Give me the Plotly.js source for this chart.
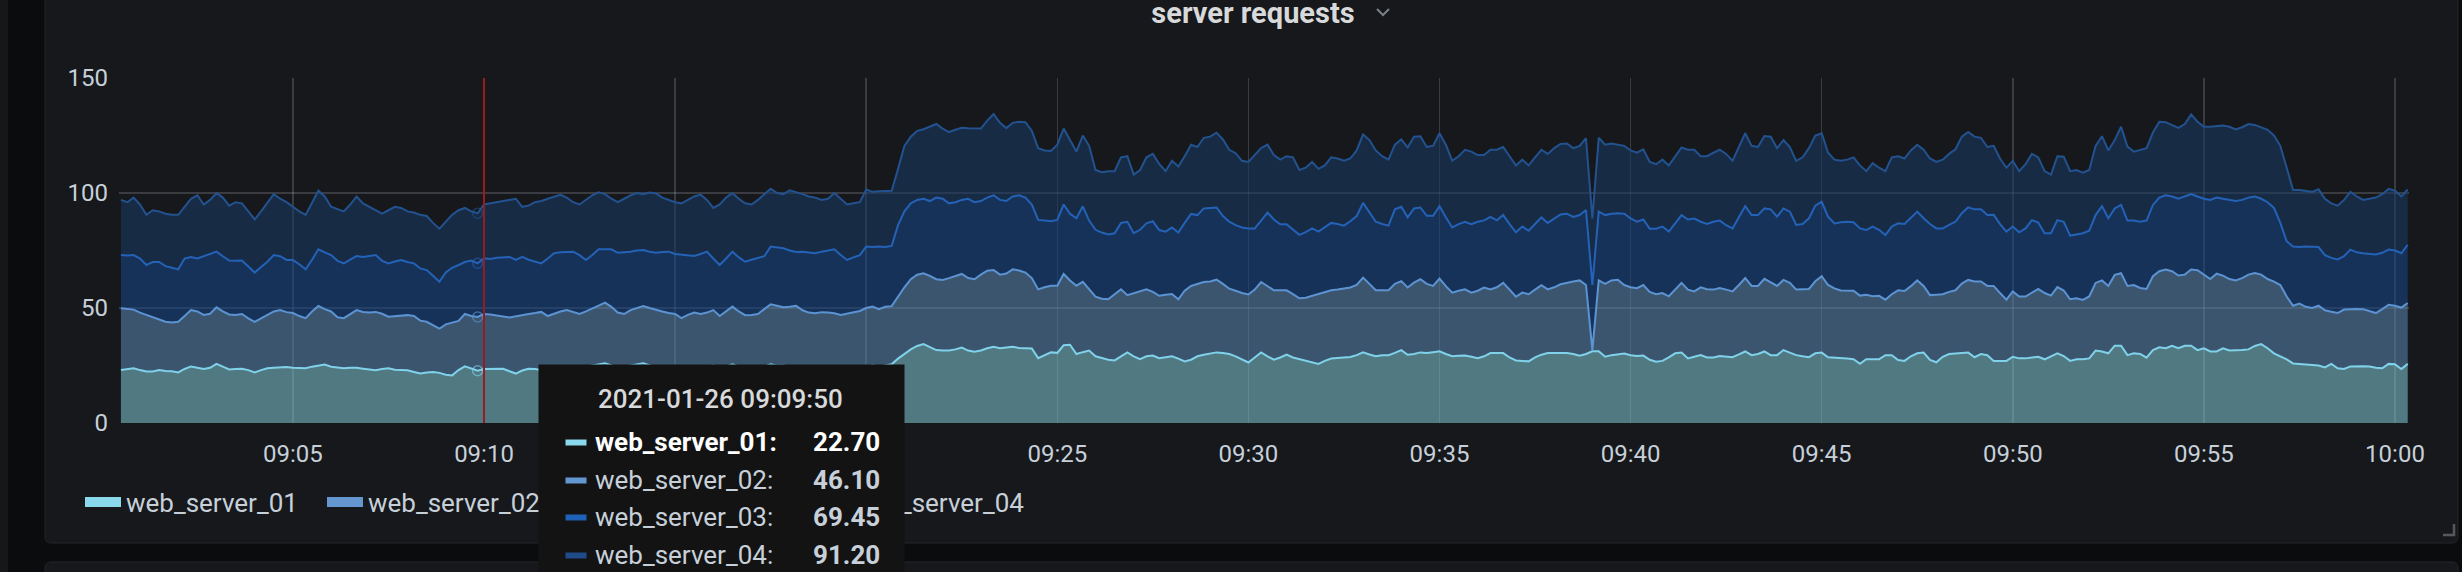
<!DOCTYPE html>
<html><head><meta charset="utf-8">
<script src="https://cdn.plot.ly/plotly-3.0.1.min.js"></script>
<style>html,body{margin:0;padding:0;background:#0b0c0e;overflow:hidden}#chart{width:2462px;height:572px}</style>
</head><body><div id="chart"></div>
<script>
// ---------- data ----------
const seriesNames = ['web_server_01', 'web_server_02', 'web_server_03', 'web_server_04'];
const chartTitle = 'server requests';
const dateStr = '2021-01-26';
const startClock = '09:00:30';   // first sample
const stepSeconds = 10;          // sampling interval
const hoverTime = '2021-01-26 09:09:50';
const annotationTime = '2021-01-26 09:10:00';
const xRange = ['2021-01-26 09:00:27', '2021-01-26 10:00:22'];
const yTicks = [0, 50, 100, 150];

const web_server_01 = [
23,23.5,23.8,23,22.4,22.4,23,22.6,22.5,22,
23.5,24.6,24,23.5,24,25.7,24.5,23.3,23.5,23.6,
23,22,23,23.8,24,24.2,24.3,24,24,23.8,
24.5,25,25.4,24.5,24,23.8,24,24,23.6,23.2,
22.9,23.5,23.8,23.2,23,22.9,22.2,21.5,22,22.2,
21.8,21,20.7,23,24.6,23.5,22.7,23.5,23.6,23.6,
23.6,22.5,21.5,22.8,23.6,23.5,23,23.5,24,24.5,
24,23.5,24,24.5,25,25.5,26,25,24,24.5,
25,25.5,26,25,24.5,24,24,23.5,23,24,
24.5,24,24.5,25,23.5,24.5,25.5,24.5,23.5,24,
24,24.5,25.5,25,25,24.5,24.5,24,23.8,24,
24,24,24.5,24,24,23.5,24,24.5,25,24.5,
25,25.5,28,30,32,33.5,34.3,33,31.7,31.5,
31.5,32,32.8,31.5,31,31.5,32.5,33.1,32.5,32.8,
33.1,32.6,32.4,32.4,28.2,29.5,30.7,30.5,33.8,34,
30,30.8,31.5,29,28.2,27.5,27.2,29,30.7,29,
27.8,29,29.3,28.2,28.5,29,28,26.8,27.5,29,
29.7,30.2,30.7,30.4,30,29,27.5,26.3,28.5,30.7,
29,27.5,28.5,29.7,28.5,27.8,27,26.2,25.7,27,
28,28.3,28.5,28.7,29.5,30.7,29.8,29,29.5,29.5,
30.5,31.7,29.7,30,30.7,30.4,30.8,31.2,30,29,
29.2,29.3,28.8,28.2,29,30.4,30.4,30.4,28.5,27.2,
27,26.8,28.5,29.7,30.4,30.4,30.4,30.4,30,29.3,
30,31.2,31.2,28.8,29.5,30,30.2,29.5,29.1,29.3,
27.5,26.6,27,28.5,30.3,30.6,28.1,28.8,29.5,28.5,
28.5,29.1,29,28.6,29.8,31.1,29.5,30,31.1,29.5,
29.5,31.7,30.6,29.5,29,28.6,30.3,30.6,28.6,28.5,
28.3,28,27.7,25.7,27.7,27.7,27.7,29.5,29.5,27.4,
27,29,30.3,30.6,27.4,26.4,28.8,30,30.3,30.6,
30.6,28.6,30,29.5,27,27,27,28.8,28.1,28.1,
28.5,28.8,27.7,29,30.3,29.1,27,27.7,27.7,28.1,
31.5,31.1,30.3,33.6,33.6,29.5,30.3,30,28.4,31.7,
32.9,32.5,33.6,32.5,33.6,33.6,31.7,32.5,31.1,31.1,
32.5,31.5,31.5,31.7,32,33.5,34.3,32.5,30.3,29,
27.7,25.9,25.5,25.4,25.2,25,24.2,25.7,23.8,23.5,
24.6,24.8,24.7,24.6,24,23.8,25.7,25.5,23.5,25.7];

const web_server_02 = [
49.9,49.5,49.3,48,47,46.2,45,44,43.7,44,
46.5,49.1,48.5,47,47.5,50.3,48.5,47.2,47,47.4,
45.5,44,45.5,46.9,48.5,49.1,48.2,47.8,46.5,45.6,
48.5,50.9,49.5,48.5,46,45.6,47.5,49.1,48.3,48,
48.3,47.5,46.2,46.5,46.9,46.9,46.5,44.5,44,42.5,
41,42.9,43.5,44.4,47.4,46.5,46.1,47.4,47.2,46.9,
46.3,45.9,46.5,47,47.4,47.8,48.3,46.5,47.5,48.5,
49.1,48.2,47.4,48.5,49.9,51,52.3,50.5,48,47.4,
49.1,50,50.9,50,49.1,48.5,47.8,47.4,45.6,47,
48,47.4,48,49.1,46.5,48.5,50.6,48.5,46.9,47,
47.4,49.5,51.6,51,50.3,50.5,51,49,48,47.7,
48.2,48,47.7,47,47.5,48.2,48.7,50,50.6,49.5,
50.5,50.8,55,59,62.5,64.5,65.1,64,62.5,62.2,
63,64,64.8,63,62.5,64.5,66.2,66.5,64.5,65,
66.8,66.3,65.4,63,58.1,59,59.7,59.7,64.8,62,
59.7,61.4,58,54.9,54,53.8,56,58.1,55.6,56.5,
57.5,58.1,57,55.3,55.8,56.1,53.8,57.5,59.6,60.5,
61.3,61.5,62.3,60.5,58.4,57.5,56.5,55.9,58,61.3,
59.5,57.7,57.7,57.7,56,54.2,54.5,55.3,56,57,
57.7,58,58.5,58.9,60,63.2,60.5,57.7,57.7,57.7,
60.5,61.7,58.9,61,62.5,60.5,59.6,62.8,59.5,56.7,
57.5,58.1,56.7,57.5,58.9,58.1,59,60.9,58,54.9,
56.7,56,58,59.9,58.1,59,60.3,61,61.5,62,
60,31.7,62,60.5,62,62.3,60,59,58.6,60,
57,56,56.5,55.1,58,60.9,58,57.2,59,58.2,
58,58.7,58,57.2,60,63,59.6,59.6,62.7,61,
59.6,62.2,60.9,58,58.2,58.3,61.6,63.8,60,58.5,
57.6,57.6,57.5,55.4,55.8,55.1,55.3,53.6,56,57.7,
57.4,59.5,62,59.6,55.6,55.8,56,57,57.7,60.6,
62.2,61.5,61.5,59.6,59.6,56.5,53.6,57.2,55,55,
56.5,58.3,56.5,55.4,59.1,57.6,53.8,54.2,53.5,55,
60.9,62,59.6,64.4,65.1,59.6,60,58.7,58.3,63.8,
66,66.7,66,64.1,64.5,66.7,66.4,64.5,62.6,64.9,
64.1,62.6,62,63,64.5,65.2,64.5,62.6,61.5,60,
55,51,51.9,50.5,50,51,49,48.4,47.8,49.3,
49.5,49.6,49.5,48.5,47.8,49.5,51.4,51,50.2,52.2];

const web_server_03 = [
73,72.8,73,71.5,68.7,70,70,68.2,67.5,66.8,
71.5,72.2,71.5,72.5,73.8,74.5,72.5,70.6,70.5,70.6,
68,65.4,67.8,70.1,73,72.5,70.9,70.9,69,66.8,
71,75.5,74.2,73,70.5,69.4,71,72.6,72.2,72.5,
73,70.5,69.4,70.2,70.9,70,69.4,67.2,66.5,64,
61.4,65.5,67.5,68.7,70,70.6,69.45,71.6,71.3,71.8,
72,72.2,70.9,72.2,71,70.1,69.4,71.5,73.8,74.2,
74.5,74.5,73,70.9,73,75.5,75.5,75.5,74,74.2,
74.5,75,75.2,74.5,74,74.3,74.5,73.5,73.3,73,
72.6,73.5,74.5,71.5,68.7,71.5,74.5,72,70.1,71,
71.6,72.5,76.7,76.3,76,75,74.4,74.5,74,73.8,
74.5,75,75.5,73,70.9,72,73,76.7,76.5,76.7,
76.5,77,86,92,95.5,97,97.5,96.5,98,97.5,
95.5,96,97,97.5,96,96.5,98,99,97,96.5,
98.5,99,98,95,88.3,88,87.7,88.3,95,91,
89,94.2,88,84,82.8,82,82.5,87,87.5,82.5,
84,86.8,87.7,83.9,83.2,85,82.8,87,90.9,90.4,
93.3,93.5,93.7,90,87.5,86,85,84.6,84.6,88,
91.5,88.5,86.4,86.4,84,81.8,83,84.6,83.2,85,
87,86.5,85.8,87.7,90,95.7,91.5,87.5,86.5,85.8,
92.9,94,89.4,93.3,93.7,90.1,90.1,94.3,89.5,85,
86.5,87.5,86.4,87.5,88.1,89.6,88.1,90.4,86.5,82.9,
85.4,83.6,86.5,89.4,87,88.8,90.7,91,89.6,90.4,
92.6,60,91.9,90.4,91,91.2,91,89,87.5,88.5,
84.5,84.5,85.4,83.2,87,90.4,88.5,88.9,87.5,86.5,
87.5,88,86,84.6,89.5,94.3,90.4,90.4,93.3,92.9,
89.7,93.3,91.9,86.1,86.5,89,94.5,96.2,89.7,86.8,
87.3,87.5,87.3,84.6,83.9,85.4,84,81.7,85.4,86.8,
86.5,89,91.9,89,86.5,84.6,84.6,86.1,87.5,91.2,
93.8,92.9,92.9,90.4,90.5,86.5,83.2,85.4,82.9,84.6,
88.2,87.1,82.5,82.5,88.2,87.5,81.5,82,82.5,83.6,
90.4,94.3,89,93.3,94.8,88,88,87.5,88,94.8,
98,99,98.5,97.5,98.5,99.5,98.5,97.5,97,98,
97.5,97,96.5,97,98,98.5,97.5,96,93.5,87,
79,76.7,76.5,76.7,76.5,76.5,73,71.8,71.1,72.5,
75.4,74.2,73.8,73.5,73.3,74,75.4,75,73.8,77.5];

const web_server_04 = [
97,96,98,95,90.5,92.5,92,91,90.5,90.5,
94,97.5,99,95,97,100,98,94.5,96,95.5,
92,88.5,92,96,99.5,97.5,96,94,92,90.5,
96,101,98.5,94,93,92,95,98.5,95.5,94,
92.5,91,92.5,94,93.5,92,91.5,90.5,90,87,
84.5,87.5,90.5,92.5,93.5,92,91.2,95,95.5,96,
96.5,97,97.5,94,94.5,96,96.5,97.5,98.5,99.2,
98,96,95,97,99,100.3,99.5,97.5,96,97.5,
99,100,99.5,100.2,99.8,98,97,96,95.5,97,
98.5,99.3,97,93.5,95,98,99.9,97.5,95.5,95,
97,99.5,101.8,100,99.5,101.2,100.5,99.5,98.5,98,
97,97.5,100,97.5,95,95.5,96,101.5,100.5,100.8,
101,101,110.5,120.5,124.5,127,127.7,128.8,130,128,
126.5,127.5,128.4,128.2,128,128,131.5,134.3,130.5,128.2,
130.5,131,130.8,127,119.5,118.5,118.3,121,128,123,
118,125,120.5,110,109,109.5,109.5,115.5,116,108,
110,115.5,117,112.6,109.5,114,111.5,116,121,120,
124,124.5,126.2,123.3,118.8,117.3,114,113.5,116.5,119.5,
121,116.5,114.5,116,115.5,110,111,113.5,110.5,112,
115.5,115,114,115,118.5,125.5,123,118.5,116,114.5,
121,123.3,119.8,124.5,124.7,120,120.5,126,121,114,
116,118.8,118,116.5,116.5,118.8,118.8,120,116,112,
114.5,112,115.5,118.8,117,119.5,121.3,121.5,119.5,120.5,
123.8,89,124,121,121.5,121,120.5,118.5,117.5,119,
113.5,112.5,114.5,112,116,119.8,118.8,118.8,116,116,
117.5,118.8,117,114,120,126,120.5,120,124.8,124.5,
119.5,123,120,114,115.5,119.5,125,126,117.5,114.5,
114,114.5,115.5,112,109.5,113,111,109.5,115.5,116,
115,118.5,121,118.8,115,113.5,114.5,117,119,124.5,
126.5,124.5,124,120,120.5,115,111,114,109.5,112.5,
117,115.5,109.5,108,116,115.8,109.5,110,108.8,110,
120.5,124.7,118.5,123,128.8,120.2,118,118.8,119.5,126.3,
131,130.8,129.7,128.3,130,134.2,131,128.8,128.8,129,
129.3,128.8,127.6,128.6,130,129.6,128.5,127.5,125,120.5,
111,101.3,101.3,101,100.5,101.6,97.5,95.5,94.5,97,
100.5,98.5,97,97.5,98,99.5,101.8,101,98.5,101.5];

const seriesValues = [web_server_01, web_server_02, web_server_03, web_server_04];

// ---------- styling ----------
const lineColors   = ['#7fd2ea', '#5c93d2', '#2462b8', '#22528f'];
const swatchColors = ['#8ad8ec', '#6497d0', '#1f60b8', '#1f4b88'];
const bandFills    = ['rgba(122,187,198,0.6)', 'rgba(87,127,166,0.6)', 'rgba(24,69,130,0.6)', 'rgba(27,57,95,0.6)'];
const PAGE_BG = '#0b0c0e', PANEL_BG = '#16181c', TEXT = '#c7d0d9', GRID = 'rgba(204,204,220,0.2)';
const FONT = 'Roboto, "Liberation Sans", sans-serif';

// time axis from start + step
function pad(n){return (n<10?'0':'')+n;}
const st = startClock.split(':').map(Number);
const startSec = st[0]*3600 + st[1]*60 + st[2];
const times = web_server_01.map((_, i) => {
  const t = startSec + i*stepSeconds;
  return dateStr + ' ' + pad(Math.floor(t/3600)) + ':' + pad(Math.floor(t%3600/60)) + ':' + pad(t%60);
});
const hoverIdx = times.indexOf(hoverTime);

// plot area in pixels
const W = 2462, H = 572, PL = 119, PR = 2409, PT = 78, PB = 423;
const xp = px => (px - PL) / (PR - PL);
const yp = py => (PB - py) / (PB - PT);

const traces = [];
seriesValues.forEach((vals, k) => {
  traces.push({
    type: 'scatter', mode: 'lines', x: times, y: vals, name: seriesNames[k],
    fill: k === 0 ? 'tozeroy' : 'tonexty', fillcolor: bandFills[k],
    line: {color: lineColors[k], width: 2}, showlegend: false, hoverinfo: 'skip'
  });
});
// hover point markers
traces.push({
  type: 'scatter', mode: 'markers', x: seriesValues.map(() => times[hoverIdx]),
  y: seriesValues.map(v => v[hoverIdx]), showlegend: false, hoverinfo: 'skip',
  marker: {symbol: 'circle-open', size: 10, color: lineColors, line: {width: 1.5, color: lineColors}, opacity: 0.6}
});
// legend entries
seriesNames.forEach((nm, k) => {
  traces.push({type: 'scatter', mode: 'lines', x: [null], y: [null], name: nm,
    line: {color: swatchColors[k], width: 10}, hoverinfo: 'skip'});
});

function rr(x0, y0, x1, y1, r) {
  const X = xp, Y = yp;
  return `M${X(x0+r)},${Y(y0)} L${X(x1-r)},${Y(y0)} Q${X(x1)},${Y(y0)} ${X(x1)},${Y(y0+r)} ` +
         `L${X(x1)},${Y(y1-r)} Q${X(x1)},${Y(y1)} ${X(x1-r)},${Y(y1)} L${X(x0+r)},${Y(y1)} ` +
         `Q${X(x0)},${Y(y1)} ${X(x0)},${Y(y1-r)} L${X(x0)},${Y(y0+r)} Q${X(x0)},${Y(y0)} ${X(x0+r)},${Y(y0)} Z`;
}

const shapes = [
  {type: 'rect', xref: 'paper', yref: 'paper', x0: xp(0), x1: xp(8), y0: yp(0), y1: yp(H), fillcolor: '#161719', line: {width: 0}, layer: 'below'},
  {type: 'path', xref: 'paper', yref: 'paper', path: rr(45, -30, 2458, 543, 6), fillcolor: PANEL_BG, line: {color: '#222428', width: 1}, layer: 'below'},
  {type: 'path', xref: 'paper', yref: 'paper', path: rr(45, 562, 2458, 700, 6), fillcolor: PANEL_BG, line: {color: '#222428', width: 1}, layer: 'below'},
  // annotation marker line
  {type: 'line', xref: 'x', yref: 'paper', x0: annotationTime, x1: annotationTime, y0: 0, y1: 1, line: {color: 'rgb(150,28,32)', width: 2}, layer: 'above'},
  // title chevron
  {type: 'path', xref: 'paper', yref: 'paper', path: `M${xp(1377)},${yp(9)} L${xp(1383)},${yp(15)} L${xp(1389)},${yp(9)}`, line: {color: '#7b7f86', width: 2}},
  // resize handle
  {type: 'path', xref: 'paper', yref: 'paper', path: `M${xp(2454)},${yp(524)} L${xp(2454)},${yp(535)} L${xp(2443)},${yp(535)}`, line: {color: '#55575c', width: 2.5}}
];

// tooltip (annotations so it sits above the legend)
const TT = {x0: 538, x1: 903, y0: 364, rowY: [442, 480, 517, 555], swX: 565, nameX: 593, valX: 882, headY: 399};
const annotations = [];
annotations.push({xref: 'paper', yref: 'paper', x: xp(TT.x0), y: yp(TT.y0), xanchor: 'left', yanchor: 'top',
  text: ' ', showarrow: false, width: TT.x1 - TT.x0, height: 260, bgcolor: '#131314', borderpad: 0, font: {size: 2}});
annotations.push({xref: 'paper', yref: 'paper', x: xp(720), y: yp(TT.headY), xanchor: 'center', yanchor: 'middle',
  text: hoverTime, showarrow: false, font: {family: FONT, size: 26, color: '#d8d9da', weight: 500}});
seriesNames.forEach((nm, k) => {
  const hl = k === 0;
  annotations.push({xref: 'paper', yref: 'paper', x: xp(TT.swX), y: yp(TT.rowY[k]), xanchor: 'left', yanchor: 'middle',
    text: ' ', showarrow: false, width: 20, height: 5, bgcolor: swatchColors[k], borderpad: 0, font: {size: 2}});
  annotations.push({xref: 'paper', yref: 'paper', x: xp(TT.nameX), y: yp(TT.rowY[k]), xanchor: 'left', yanchor: 'middle',
    text: nm + ':', showarrow: false, font: {family: FONT, size: 26, color: hl ? '#ffffff' : TEXT, weight: hl ? 700 : 400}});
  annotations.push({xref: 'paper', yref: 'paper', x: xp(TT.valX), y: yp(TT.rowY[k]), xanchor: 'right', yanchor: 'middle',
    text: seriesValues[k][hoverIdx].toFixed(2), showarrow: false, font: {family: FONT, size: 26, color: hl ? '#ffffff' : TEXT, weight: 700}});
});

const layout = {
  width: W, height: H,
  margin: {l: PL, r: W - PR, t: PT, b: H - PB, pad: 0, autoexpand: false},
  paper_bgcolor: PAGE_BG, plot_bgcolor: 'rgba(0,0,0,0)',
  title: {text: chartTitle, x: 1253 / W, xanchor: 'center', xref: 'container', yref: 'container', y: 1 - 13 / H, yanchor: 'middle',
    font: {family: FONT, size: 29, color: '#d8d9da', weight: 700}},
  xaxis: {type: 'date', range: xRange, tickmode: 'linear', tick0: '2021-01-26 09:05:00', dtick: 300000, tickformat: '%H:%M',
    showgrid: true, gridcolor: GRID, gridwidth: 1.5, zeroline: false, showline: false, ticks: '',
    tickfont: {family: FONT, size: 24, color: TEXT}, ticklabelstandoff: 14, fixedrange: true},
  yaxis: {range: [0, 150], tickmode: 'array', tickvals: yTicks, showgrid: true, gridcolor: GRID, gridwidth: 1.5,
    zeroline: false, showline: false, ticks: '', tickfont: {family: FONT, size: 24, color: TEXT}, ticklabelstandoff: 10, fixedrange: true},
  showlegend: true,
  legend: {orientation: 'h', x: xp(80), xanchor: 'left', y: yp(502), yanchor: 'middle', bgcolor: 'rgba(0,0,0,0)',
    font: {family: FONT, size: 26, color: TEXT}, entrywidth: 191, entrywidthmode: 'pixels', itemwidth: 36, traceorder: 'normal'},
  hovermode: false,
  shapes: shapes,
  annotations: annotations
};

Plotly.newPlot('chart', traces, layout, {staticPlot: true, displayModeBar: false});
</script>
</body></html>
